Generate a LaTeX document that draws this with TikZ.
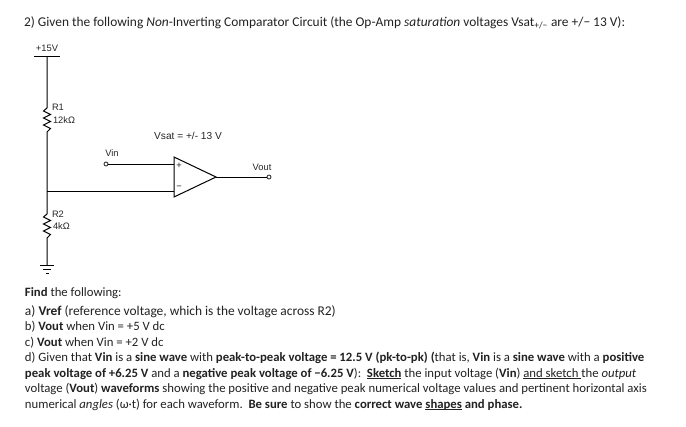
\documentclass[tikz,border=0pt]{standalone}
\usepackage{fontspec}
\setmainfont{Carlito}
\newfontfamily\schemfont{Liberation Sans}
\newcommand{\ul}[1]{\setbox0\hbox{#1}\rlap{\rule[-1.1pt]{\wd0}{0.5pt}}\box0\relax}
\definecolor{txt}{HTML}{222222}
\tikzset{
  para/.style={anchor=base west,inner sep=0pt,outer sep=0pt,font=\fontsize{9.55}{12}\selectfont,text=txt},
  parawide/.style={para,font=\fontsize{10.05}{12}\selectfont},
  schem/.style={inner sep=0pt,outer sep=0pt,font=\schemfont\fontsize{7}{8}\selectfont,text=black!85},
  wire/.style={draw=black,line width=0.75pt,line join=miter},
  term/.style={circle,draw=black,fill=white,line width=0.5pt,minimum size=3pt,inner sep=0pt,outer sep=0pt}
}
\begin{document}
\begin{tikzpicture}[x=0.75pt,y=-0.75pt]
\useasboundingbox[fill=white] (0,0) rectangle (686,426);
% text
\node[parawide] (t1) at (24,26) {2) Given the following \textit{Non}-Inverting Comparator Circuit (the Op-Amp \textit{saturation} voltages Vsat\textsubscript{+/−} are +/− 13 V):};
\node[para] (f0) at (25,296) {\textbf{Find} the following:};
\node[parawide] (fa) at (25,315) {a) \textbf{Vref} (reference voltage, which is the voltage across R2)};
\node[para] (fb) at (25,330) {b) \textbf{Vout} when Vin = +5 V dc};
\node[para] (fc) at (25,346) {c) \textbf{Vout} when Vin = +2 V dc};
\node[para] (fd) at (25,361) {d) Given that \textbf{Vin} is a \textbf{sine wave} with \textbf{peak-to-peak voltage = 12.5 V (pk-to-pk) (}that is, \textbf{Vin} is a \textbf{sine wave} with a \textbf{positive}};
\node[para] (fe) at (25,377) {\textbf{peak voltage of +6.25 V} and a \textbf{negative peak voltage of −6.25 V}):\ \ \ul{\textbf{Sketch}} the input voltage (\textbf{Vin}) \ul{and sketch\ }the \textit{output}};
\node[para] (ff) at (25,392) {voltage (\textbf{Vout}) \textbf{waveforms} showing the positive and negative peak numerical voltage values and pertinent horizontal axis};
\node[para] (fg) at (25,408) {numerical \textit{angles} (ω·t) for each waveform.\ \ \textbf{Be sure} to show the \textbf{correct wave \ul{shapes} and phase.}};
% supply and divider
\coordinate (barL) at (34,56);
\coordinate (barR) at (60,56);
\coordinate (top) at (47,56);
\coordinate (r1a) at (47,108);
\coordinate (r1b) at (47,133);
\coordinate (junc) at (47,191);
\coordinate (r2a) at (47,214);
\coordinate (r2b) at (47,239);
\coordinate (gnd) at (47,265);
\draw[wire] (barL) -- (barR);
\draw[wire] (top) -- (r1a) -- ++(-3.5,3) -- ++(7,3.5) -- ++(-7,3.5) -- ++(7,3.5) -- ++(-7,3.5) -- ++(7,3.5) -- ++(-3.5,3.5) -- (r1b) -- (junc);
\draw[wire] (junc) -- (r2a) -- ++(-3.5,3) -- ++(7,3.5) -- ++(-7,3.5) -- ++(7,3.5) -- ++(-7,3.5) -- ++(7,3.5) -- ++(-3.5,3.5) -- (r2b) -- (gnd);
% ground
\draw[wire] (40,265) -- (54,265);
\draw[wire] (43,269) -- (51,269);
\draw[wire] (45.5,273) -- (48.5,273);
% op-amp
\coordinate (ampT) at (174,157);
\coordinate (ampB) at (174,197);
\coordinate (ampO) at (216,177);
\coordinate (ampP) at (174,164);
\coordinate (ampN) at (174,191);
\draw[wire] (ampT) -- (ampO) -- (ampB) -- cycle;
\node[schem] (plus) at (179,166) {+};
\node[schem] (minus) at (179,188) {−};
\node[term] (vinT) at (106,164) {};
\node[term] (voutT) at (269,177) {};
\draw[wire] (vinT) -- (ampP);
\draw[wire] (ampO) -- (voutT);
\draw[wire] (junc) -- (ampN);
% labels
\node[schem] (l15) at (47,48) {+15V};
\node[schem,anchor=west] (lr1) at (52,107) {R1};
\node[schem,anchor=west] (l12k) at (53,120) {12kΩ};
\node[schem,anchor=west] (lr2) at (52,214) {R2};
\node[schem,anchor=west] (l4k) at (53,226) {4kΩ};
\node[schem,font=\schemfont\fontsize{7.6}{9}\selectfont] (lsat) at (188,136) {Vsat = +/- 13 V};
\node[schem] (lvin) at (112,153) {Vin};
\node[schem] (lvout) at (262,167) {Vout};
\end{tikzpicture}
\end{document}
